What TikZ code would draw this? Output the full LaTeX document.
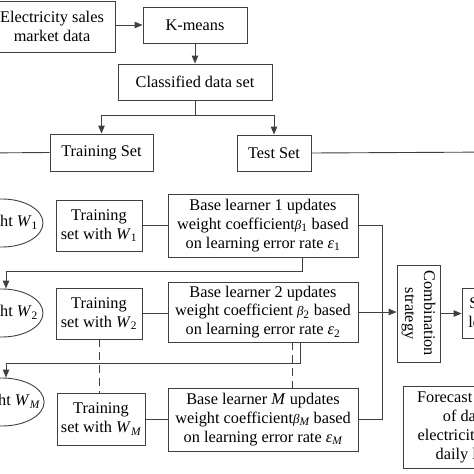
\documentclass[tikz,border=0pt]{standalone}
\usepackage{fontspec}
\setmainfont{Liberation Serif}
\usetikzlibrary{arrows.meta,shapes.geometric}

\newcommand{\wsym}[1]{\textit{W}\textsubscript{#1}}
\newcommand{\coef}[1]{{\fontsize{13pt}{15pt}\selectfont\itshape β}\textsubscript{#1}}
\newcommand{\erate}[1]{\textit{ε}\textsubscript{#1}}

\tikzset{
	box/.style={draw=black!75, line width=0.9pt, align=center, inner sep=2pt},
	oval/.style={ellipse, draw=black!75, line width=0.9pt, inner xsep=-8pt, inner ysep=0pt, minimum width=82pt, minimum height=48pt},
	link/.style={draw=black!75, line width=0.9pt},
	arr/.style={link, -{Triangle[length=8pt,width=6.5pt]}},
	gap/.style={link, dash pattern=on 8pt off 5pt},
}

\begin{document}
\begin{tikzpicture}[x=1pt, y=-1pt, font=\fontsize{16.3pt}{18.8pt}\selectfont]

	\useasboundingbox (0,0) rectangle (474,474);
	\clip (0,0) rectangle (474,474);

	\node[box, minimum width=126pt, minimum height=51pt] (esales) at (52,26.5) {Electricity sales\\market data};
	\node[box, minimum width=104pt, minimum height=36pt] (kmeans) at (195,25) {K-means};
	\node[box, minimum width=154pt, minimum height=36pt] (cls) at (195,82) {Classified data set};

	\node[box, minimum width=103pt, minimum height=37pt] (train) at (101.5,152.5) {Training Set};
	\node[box, minimum width=74pt, minimum height=36pt] (test) at (274,153) {Test Set};

	\node[oval] (w1) at (2,223) {Weight \wsym{1}};
	\node[oval] (w2) at (2,313) {Weight \wsym{2}};
	\node[oval] (wm) at (2,402) {Weight \wsym{\itshape M}};

	\node[box, minimum width=86pt, minimum height=51pt] (ts1) at (99,225.5) {Training\\set with \wsym{1}};
	\node[box, minimum width=86pt, minimum height=51pt] (ts2) at (99,313.5) {Training\\set with \wsym{2}};
	\node[box, minimum width=88pt, minimum height=52pt] (tsm) at (101,419) {Training\\set with \wsym{\itshape M}};

	\node[box, minimum width=190pt, minimum height=63pt] (bl1) at (263,225.5) {Base learner 1 updates\\weight coefficient\coef{1} based\\on learning error rate \erate{1}};
	\node[box, minimum width=190pt, minimum height=60pt] (bl2) at (263,312) {Base learner 2 updates\\weight coefficient \coef{2} based\\on learning error rate \erate{2}};
	\node[box, minimum width=190pt, minimum height=63pt] (blm) at (263,419.5) {Base learner \textit{M} updates\\weight coefficient\coef{\itshape M} based\\on learning error rate \erate{\itshape M}};

	\node[box, rotate=-90, minimum width=97pt, minimum height=43pt, inner sep=0pt] (comb) at (418.5,313.5) {Combination\\strategy};
	\node[box, minimum width=58pt, minimum height=50pt] (strong) at (491,313) {Strong\\learner};
	\node[box, minimum width=130pt, minimum height=82pt] (fcast) at (468,427) {Forecast results\\of daily\\electricity sales\\daily load};

	\coordinate (feed) at (-20,153);
	\coordinate (testout) at (500,152);
	\coordinate (bus) at (382,0);

	\draw[arr] (esales.east |- kmeans.west) -- (kmeans.west);
	\draw[arr] (kmeans.south) -- (cls.north);
	\draw[link] (cls.south) -- ++(0,15) coordinate (split);
	\draw[arr] (split) -| (train.north);
	\draw[arr] (split) -| (test.north);
	\draw[link] (feed) -- (train.west);
	\draw[link] (test.east) -- (testout);

	\draw[link] (ts1) -- (bl1);
	\draw[link] (ts2.east) -- (ts2.east -| bl2.west);
	\draw[link] (tsm.east) -- (tsm.east -| blm.west);

	\draw[gap] (ts2.south) -- (ts2.south |- tsm.north);
	\draw[gap] ([xshift=29pt]bl2.south) -- ([xshift=29pt]bl2.south |- blm.north);

	\draw[arr] ([xshift=39pt]bl1.south) -- ++(0,14) -| ([xshift=4pt]w2.north);
	\draw[arr] ([xshift=37pt]bl2.south) -- ++(0,21) -| ([xshift=4pt]wm.north);

	\draw[link] (bl1.east) -- (bl1.east -| bus) -- (blm.east -| bus) -- (blm.east);
	\draw[arr] (bl2.east) -- (bl2.east -| comb.south);
	\draw[arr] (comb.north) -- (comb.north -| strong.west);

\end{tikzpicture}
\end{document}
